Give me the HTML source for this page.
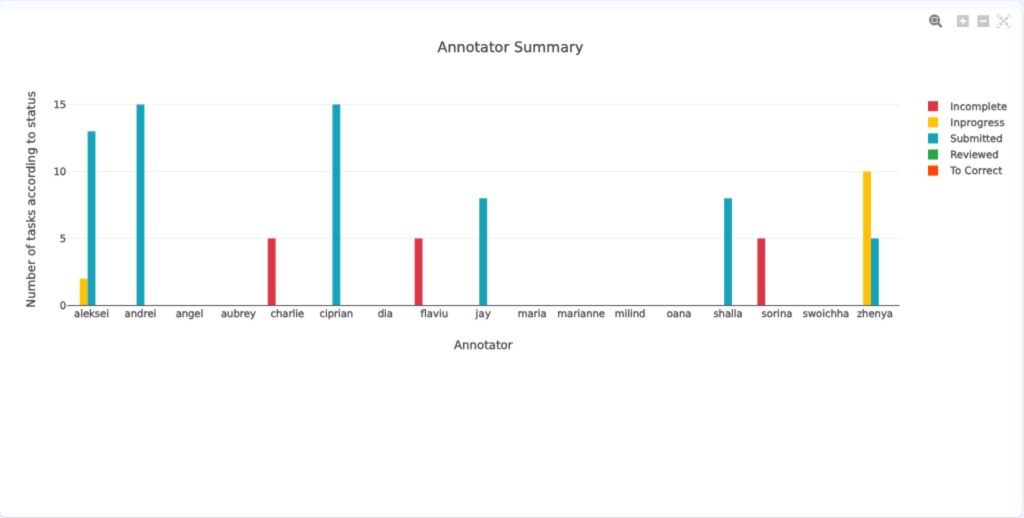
<!DOCTYPE html>
<html lang="en">
<head>
<meta charset="utf-8">
<title>Annotator Summary</title>
<style>
html,body{margin:0;padding:0;}
body{width:1024px;height:518px;overflow:hidden;background:#eef1fb;font-family:"DejaVu Sans","Liberation Sans",sans-serif;position:relative;}
.outer{position:absolute;left:0;top:1px;width:1022px;height:40px;background:#f8fbff;border-radius:4px 7px 0 0;}
.card{position:absolute;left:0;top:9px;width:1022px;height:508px;background:#fff;border-radius:6px;box-shadow:0 1px 0 #d9e0f6,1px 0 0 #e6ebf9;}
svg{position:absolute;left:0;top:0;}
text{font-family:"DejaVu Sans","Liberation Sans",sans-serif;fill:#444;stroke:#444;stroke-width:0.25px;text-rendering:geometricPrecision;}
</style>
</head>
<body>
<div class="outer"></div>
<div class="card"></div>
<div style="position:absolute;left:4px;top:9px;width:1014px;height:1px;background:#fbfdff"></div>
<svg width="1024" height="518" viewBox="0 0 1024 518">
<defs><filter id="soft" x="0" y="0" width="1024" height="518" filterUnits="userSpaceOnUse" color-interpolation-filters="sRGB"><feConvolveMatrix order="3" kernelMatrix="0.02 0.09 0.02 0.09 0.56 0.09 0.02 0.09 0.02" divisor="1" edgeMode="duplicate" preserveAlpha="false"/></filter></defs>
<g filter="url(#soft)">

<g stroke="#eeeeee" stroke-width="0.84">
<line x1="67.05" x2="899.4" y1="238.43" y2="238.43"/>
<line x1="67.05" x2="899.4" y1="171.47" y2="171.47"/>
<line x1="67.05" x2="899.4" y1="104.50" y2="104.50"/>
</g>
<g shape-rendering="auto">
<rect x="79.78" y="278.61" width="7.83" height="26.79" fill="#ffc107"/>
<rect x="87.61" y="131.29" width="7.83" height="174.11" fill="#17a2b8"/>
<rect x="136.58" y="104.50" width="7.83" height="200.90" fill="#17a2b8"/>
<rect x="267.79" y="238.43" width="7.83" height="66.97" fill="#dc3545"/>
<rect x="332.42" y="104.50" width="7.83" height="200.90" fill="#17a2b8"/>
<rect x="414.68" y="238.43" width="7.83" height="66.97" fill="#dc3545"/>
<rect x="479.31" y="198.25" width="7.83" height="107.15" fill="#17a2b8"/>
<rect x="724.12" y="198.25" width="7.83" height="107.15" fill="#17a2b8"/>
<rect x="757.41" y="238.43" width="7.83" height="66.97" fill="#dc3545"/>
<rect x="863.17" y="171.47" width="7.83" height="133.93" fill="#ffc107"/>
<rect x="871.00" y="238.43" width="7.83" height="66.97" fill="#17a2b8"/>
</g>
<line x1="67.05" x2="899.4" y1="305.54999999999995" y2="305.54999999999995" stroke="#555" stroke-width="1"/>
<g font-size="10.08" text-anchor="middle">
<text x="91.53" y="316.6" textLength="34.82" lengthAdjust="spacing">aleksei</text>
<text x="140.49" y="316.6" textLength="31.79" lengthAdjust="spacing">andrei</text>
<text x="189.45" y="316.6" textLength="27.49" lengthAdjust="spacing">angel</text>
<text x="238.42" y="316.6" textLength="35.00" lengthAdjust="spacing">aubrey</text>
<text x="287.38" y="316.6" textLength="33.53" lengthAdjust="spacing">charlie</text>
<text x="336.34" y="316.6" textLength="33.80" lengthAdjust="spacing">ciprian</text>
<text x="385.30" y="316.6" textLength="15.10" lengthAdjust="spacing">dia</text>
<text x="434.26" y="316.6" textLength="27.48" lengthAdjust="spacing">flaviu</text>
<text x="483.23" y="316.6" textLength="15.49" lengthAdjust="spacing">jay</text>
<text x="532.19" y="316.6" textLength="28.99" lengthAdjust="spacing">maria</text>
<text x="581.15" y="316.6" textLength="47.76" lengthAdjust="spacing">marianne</text>
<text x="630.11" y="316.6" textLength="30.75" lengthAdjust="spacing">milind</text>
<text x="679.07" y="316.6" textLength="24.62" lengthAdjust="spacing">oana</text>
<text x="728.03" y="316.6" textLength="29.27" lengthAdjust="spacing">shalla</text>
<text x="777.00" y="316.6" textLength="30.88" lengthAdjust="spacing">sorina</text>
<text x="825.96" y="316.6" textLength="46.45" lengthAdjust="spacing">swoichha</text>
<text x="874.92" y="316.6" textLength="36.09" lengthAdjust="spacing">zhenya</text>
</g>
<g font-size="10.08" text-anchor="end">
<text x="66.2" y="309.00" textLength="6.41" lengthAdjust="spacing">0</text>
<text x="66.2" y="242.03" textLength="6.41" lengthAdjust="spacing">5</text>
<text x="66.2" y="175.07" textLength="12.82" lengthAdjust="spacing">10</text>
<text x="66.2" y="108.10" textLength="12.82" lengthAdjust="spacing">15</text>
</g>
<text x="510.5" y="51.5" font-size="14.28" text-anchor="middle" textLength="145.87" lengthAdjust="spacing">Annotator Summary</text>
<text x="483.3" y="349.2" font-size="11.76" text-anchor="middle" textLength="58.56" lengthAdjust="spacing">Annotator</text>
<text transform="translate(34.6,199.4) rotate(-90)" font-size="11.76" text-anchor="middle" textLength="216.54" lengthAdjust="spacing">Number of tasks according to status</text>
<rect x="928" y="101.16" width="10.08" height="10.08" fill="#dc3545"/>
<text x="950.3" y="109.90" font-size="10.08" textLength="56.83" lengthAdjust="spacing">Incomplete</text>
<rect x="928" y="117.26" width="10.08" height="10.08" fill="#ffc107"/>
<text x="950.3" y="126.00" font-size="10.08" textLength="54.42" lengthAdjust="spacing">Inprogress</text>
<rect x="928" y="133.36" width="10.08" height="10.08" fill="#17a2b8"/>
<text x="950.3" y="142.10" font-size="10.08" textLength="52.36" lengthAdjust="spacing">Submitted</text>
<rect x="928" y="149.46" width="10.08" height="10.08" fill="#28a745"/>
<text x="950.3" y="158.20" font-size="10.08" textLength="48.28" lengthAdjust="spacing">Reviewed</text>
<rect x="928" y="165.56" width="10.08" height="10.08" fill="#ff4500"/>
<text x="950.3" y="174.30" font-size="10.08" textLength="51.87" lengthAdjust="spacing">To Correct</text>
<g transform="translate(929.1,14.45) scale(0.01344) matrix(1 0 0 -1 0 850)" fill="#444" fill-opacity="0.7"><path d="m1000-25l-250 251c40 63 63 138 63 218 0 224-182 406-407 406-224 0-406-182-406-406s183-406 407-406c80 0 155 22 218 62l250-250 125 125z m-812 250l0 438 437 0 0-438-437 0z m62 375l313 0 0-312-313 0 0 312z"/></g>
<g transform="translate(957.0,14.45) scale(0.01344) matrix(1 0 0 -1 0 850)" fill="#444" fill-opacity="0.3"><path d="m1 787l0-875 875 0 0 875-875 0z m687-500l-187 0 0-187-125 0 0 187-188 0 0 125 188 0 0 187 125 0 0-187 187 0 0-125z"/></g>
<g transform="translate(977.4,14.45) scale(0.01344) matrix(1 0 0 -1 0 850)" fill="#444" fill-opacity="0.3"><path d="m0 788l0-876 875 0 0 876-875 0z m688-500l-500 0 0 125 500 0 0-125z"/></g>
<g transform="translate(997.0,14.45) scale(0.01344) matrix(1 0 0 -1 0 850)" fill="#444" fill-opacity="0.3"><path d="m250 850l-187 0-63 0 0-62 0-188 63 0 0 188 187 0 0 62z m688 0l-188 0 0-62 188 0 0-188 62 0 0 188 0 62-62 0z m-875-938l0 188-63 0 0-188 0-62 63 0 187 0 0 62-187 0z m875 188l0-188-188 0 0-62 188 0 62 0 0 62 0 188-62 0z m-125 188l-1 0-93-94-156 156 156 156 92-93 2 0 0 250-250 0 0-2 93-92-156-156-156 156 94 92 0 2-250 0 0-250 0 0 93 93 157-156-157-156-93 94 0 0 0-250 250 0 0 0-94 93 156 157 156-157-93-93 0 0 250 0 0 250z"/></g>
</g>
</svg>
</body>
</html>
